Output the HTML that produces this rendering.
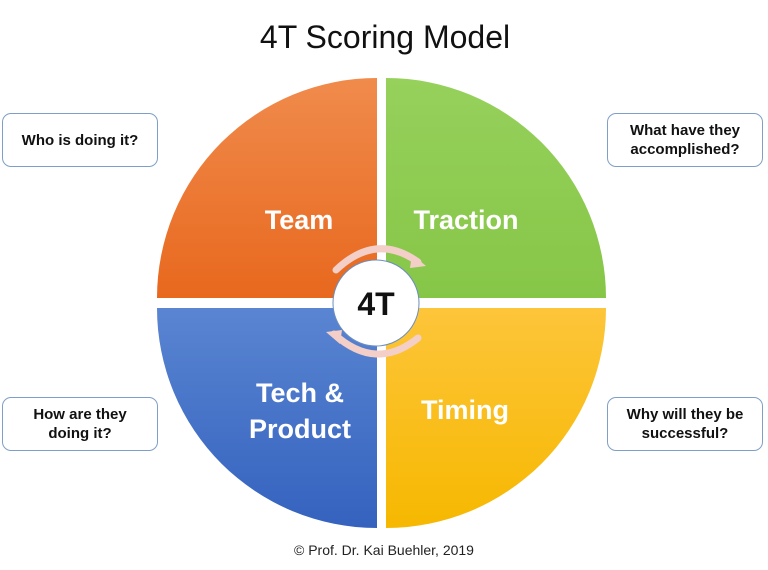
<!DOCTYPE html>
<html><head><meta charset="utf-8"><style>
body{margin:0;width:768px;height:570px;background:#fff;overflow:hidden;font-family:"Liberation Sans",sans-serif}
.b{position:absolute;width:154px;height:52px;border:1.5px solid #7f9fc8;border-radius:9px;background:#fff;display:flex;align-items:center;justify-content:center;text-align:center;font-weight:bold;font-size:15px;line-height:19px;color:#111}
</style></head><body>
<svg width="768" height="570" style="position:absolute;left:0;top:0">
<defs>
<linearGradient id="o" x1="0" y1="0" x2="0" y2="1"><stop offset="0" stop-color="#f08b4c"/><stop offset="1" stop-color="#e8681e"/></linearGradient>
<linearGradient id="g" x1="0" y1="0" x2="0" y2="1"><stop offset="0" stop-color="#96d15c"/><stop offset="1" stop-color="#86c647"/></linearGradient>
<linearGradient id="bl" x1="0" y1="0" x2="0" y2="1"><stop offset="0" stop-color="#5a85d2"/><stop offset="1" stop-color="#3462be"/></linearGradient>
<linearGradient id="y" x1="0" y1="0" x2="0" y2="1"><stop offset="0" stop-color="#fdc53a"/><stop offset="1" stop-color="#f6b800"/></linearGradient>
</defs>
<text x="385" y="48" font-size="32" text-anchor="middle" fill="#111" font-family="Liberation Sans">4T Scoring Model</text>
<path d="M377,298 L157,298 A220,220 0 0 1 377,78 Z" fill="url(#o)"/>
<path d="M386,298 L386,78 A220,220 0 0 1 606,298 Z" fill="url(#g)"/>
<path d="M377,308 L377,528 A220,220 0 0 1 157,308 Z" fill="url(#bl)"/>
<path d="M386,308 L606,308 A220,220 0 0 1 386,528 Z" fill="url(#y)"/>
<g fill="#fff" font-weight="bold" font-size="27" text-anchor="middle" font-family="Liberation Sans">
<text x="299" y="229">Team</text>
<text x="466" y="229">Traction</text>
<text x="300" y="402">Tech &amp;</text>
<text x="300" y="438">Product</text>
<text x="465" y="419">Timing</text>
</g>
<g fill="none" stroke="#f3cfc8" stroke-width="7" stroke-linecap="round">
<path d="M336,270 Q376,232 418,262"/>
<path d="M334,334 Q376,372 418,338"/>
</g>
<path d="M412,254 L426,266 L410,268 Z" fill="#f3cfc8"/>
<path d="M340,344 L326,332 L342,330 Z" fill="#f3cfc8"/>
<circle cx="376" cy="303" r="43" fill="#fff" stroke="#6c8ebf" stroke-width="1"/>
<text x="376" y="315" font-size="32" font-weight="bold" text-anchor="middle" fill="#111" font-family="Liberation Sans">4T</text>
<text x="384" y="555" font-size="14" text-anchor="middle" fill="#222" font-family="Liberation Sans">© Prof. Dr. Kai Buehler, 2019</text>
</svg>
<div class="b" style="left:2px;top:113px">Who is doing it?</div>
<div class="b" style="left:607px;top:113px">What have they<br>accomplished?</div>
<div class="b" style="left:2px;top:397px">How are they<br>doing it?</div>
<div class="b" style="left:607px;top:397px">Why will they be<br>successful?</div>
</body></html>
